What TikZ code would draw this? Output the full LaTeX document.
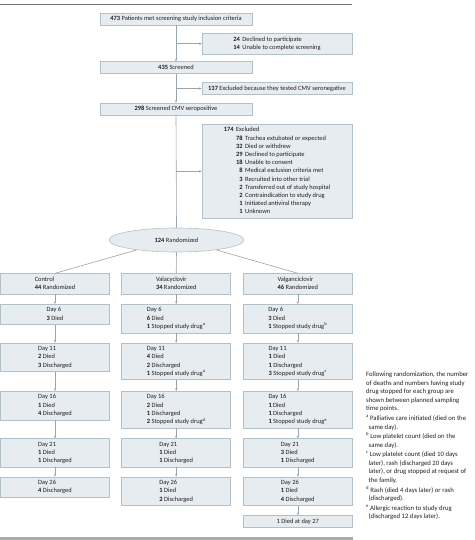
\documentclass[tikz,border=0pt]{standalone}
\usepackage{fontspec}
\setmainfont{Carlito}
\usetikzlibrary{shapes.geometric,arrows.meta}
\definecolor{boxfill}{HTML}{E6ECF0}
\definecolor{boxline}{HTML}{B2C0C9}
\definecolor{conn}{HTML}{98A4AC}
\definecolor{txt}{HTML}{231F20}
\newcommand{\nb}[1]{\textbf{#1}}
\newcommand{\mytab}[1]{\begin{tabular}{@{}l@{}}#1\end{tabular}}
\newcommand{\numtab}[1]{\begin{tabular}{@{}r@{\hspace{2.5pt}}l@{}}#1\end{tabular}}
\newcommand{\fn}[1]{\textsuperscript{#1}}
\begin{document}
\begin{tikzpicture}[x=1pt,y=-1pt,
  box/.style={draw=boxline, fill=boxfill, line width=0.6pt, inner xsep=0pt, inner ysep=1.95pt, anchor=north, font=\fontsize{6.45}{8.2}\selectfont, text=txt},
  colbox/.style={box, minimum width=109pt},
  arr/.style={draw=conn, line width=0.6pt, -{Stealth[length=2.6pt,width=2.4pt]}},
  ln/.style={draw=conn, line width=0.6pt}]
\useasboundingbox (0,0) rectangle (474,540);
\draw[line width=0.8pt, draw=black!55] (0,4.3) -- (352.3,4.3);
\fill[black!33] (0,536.8) rectangle (353,540);

% screening
\node[box, minimum width=152pt] (p473) at (176,12.7) {\mytab{\nb{473} Patients met screening study inclusion criteria}};
\node[box, minimum width=150pt, minimum height=21pt] (s1) at (277,33) {\numtab{\nb{24} & Declined to participate\\ \nb{14} & Unable to complete screening}};
\node[box, minimum width=152pt] (scr) at (176,61.3) {\mytab{\nb{435} Screened}};
\node[box, minimum width=150pt] (s2) at (277,82.3) {\mytab{\nb{137} Excluded because they tested CMV seronegative}};
\node[box, minimum width=152pt] (cmv) at (176,102.7) {\mytab{\nb{298} Screened CMV seropositive}};
\node[box, minimum width=150pt] (s3) at (277,124) {\begin{tabular}{@{}r@{\hspace{2.5pt}}r@{\hspace{2.5pt}}l@{}}
\nb{174} & \multicolumn{2}{@{}l@{}}{Excluded}\\
 & \nb{78} & Trachea extubated or expected\\
 & \nb{32} & Died or withdrew\\
 & \nb{29} & Declined to participate\\
 & \nb{18} & Unable to consent\\
 & \nb{8} & Medical exclusion criteria met\\
 & \nb{3} & Recruited into other trial\\
 & \nb{2} & Transferred out of study hospital\\
 & \nb{2} & Contraindication to study drug\\
 & \nb{1} & Initiated antiviral therapy\\
 & \nb{1} & Unknown
\end{tabular}};
\node[draw=boxline, fill=boxfill, line width=0.6pt, ellipse, minimum width=135pt, minimum height=24pt, inner sep=0pt, font=\fontsize{6.45}{8.2}\selectfont, text=txt] (rand) at (176.5,240) {\nb{124} Randomized};

\draw[arr] (p473.south) -- (scr.north);
\draw[arr] (s1.west -| p473.south) -- (s1.west);
\draw[arr] (scr.south) -- (cmv.north);
\draw[arr] (s2.west -| scr.south) -- (s2.west);
\draw[ln] (cmv.south) -- (rand.north);
\draw[arr] (s3.west -| cmv.south) -- (s3.west);

% groups
\node[colbox] (c0) at (55,273.3) {\mytab{Control\\ \nb{44} Randomized}};
\node[colbox] (v0) at (176.2,273.3) {\mytab{Valacyclovir\\ \nb{34} Randomized}};
\node[colbox] (g0) at (297.8,273.3) {\mytab{Valganciclovir\\ \nb{46} Randomized}};
\draw[ln] (rand.194) -- (c0.north);
\draw[ln] (rand.south) -- (v0.north);
\draw[ln] (rand.346) -- (g0.north);

% day 6
\node[colbox] (c6) at (55,304) {\mytab{Day 6\\ \nb{3} Died}};
\node[colbox] (v6) at (176.2,304) {\mytab{Day 6\\ \nb{6} Died\\ \nb{1} Stopped study drug\fn{a}}};
\node[colbox] (g6) at (297.8,304) {\mytab{Day 6\\ \nb{3} Died\\ \nb{1} Stopped study drug\fn{b}}};
% day 11
\node[colbox] (c11) at (55,342.7) {\mytab{Day 11\\ \nb{2} Died\\ \nb{3} Discharged}};
\node[colbox] (v11) at (176.2,342.7) {\mytab{Day 11\\ \nb{4} Died\\ \nb{2} Discharged\\ \nb{1} Stopped study drug\fn{a}}};
\node[colbox] (g11) at (297.8,342.7) {\mytab{Day 11\\ \nb{1} Died\\ \nb{1} Discharged\\ \nb{3} Stopped study drug\fn{c}}};
% day 16
\node[colbox] (c16) at (55,391) {\mytab{Day 16\\ \nb{1} Died\\ \nb{4} Discharged}};
\node[colbox] (v16) at (176.2,391) {\mytab{Day 16\\ \nb{2} Died\\ \nb{1} Discharged\\ \nb{2} Stopped study drug\fn{d}}};
\node[colbox] (g16) at (297.8,391) {\mytab{Day 16\\ \nb{1} Died\\ \nb{1} Discharged\\ \nb{1} Stopped study drug\fn{e}}};
% day 21
\node[colbox] (c21) at (55,438.3) {\mytab{Day 21\\ \nb{1} Died\\ \nb{1} Discharged}};
\node[colbox] (v21) at (176.2,438.3) {\mytab{Day 21\\ \nb{1} Died\\ \nb{1} Discharged}};
\node[colbox] (g21) at (297.8,438.3) {\mytab{Day 21\\ \nb{3} Died\\ \nb{1} Discharged}};
% day 26
\node[colbox] (c26) at (55,476.7) {\mytab{Day 26\\ \nb{4} Discharged}};
\node[colbox] (v26) at (176.2,476.7) {\mytab{Day 26\\ \nb{1} Died\\ \nb{2} Discharged}};
\node[colbox] (g26) at (297.8,476.7) {\mytab{Day 26\\ \nb{1} Died\\ \nb{4} Discharged}};
\node[colbox] (g27) at (297.8,515.3) {\mytab{1 Died at day 27}};

\foreach \col in {c,v,g}{
  \draw[arr] (\col0.south) -- (\col6.north);
  \draw[arr] (\col6.south) -- (\col11.north);
  \draw[arr] (\col11.south) -- (\col16.north);
  \draw[arr] (\col16.south) -- (\col21.north);
  \draw[arr] (\col21.south) -- (\col26.north);
}
\draw[arr] (g26.south) -- (g27.north);

% note
\node[anchor=north west, inner sep=0pt, align=left, font=\fontsize{6.7}{8.5}\selectfont, text=txt] (note) at (366,372) {Following randomization, the number\\
of deaths and numbers having study\\
drug stopped for each group are\\
shown between planned sampling\\
time points.\\[1.2pt]
\fn{a}\,Palliative care initiated (died on the\\
\hspace{2.5pt}same day).\\[1.2pt]
\fn{b}\,Low platelet count (died on the\\
\hspace{2.5pt}same day).\\[1.2pt]
\fn{c}\,Low platelet count (died 10 days\\
\hspace{2.5pt}later), rash (discharged 20 days\\
\hspace{2.5pt}later), or drug stopped at request of\\
\hspace{2.5pt}the family.\\[1.2pt]
\fn{d}\,Rash (died 4 days later) or rash\\
\hspace{2.5pt}(discharged).\\[1.2pt]
\fn{e}\,Allergic reaction to study drug\\
\hspace{2.5pt}(discharged 12 days later).};
\end{tikzpicture}
\end{document}
